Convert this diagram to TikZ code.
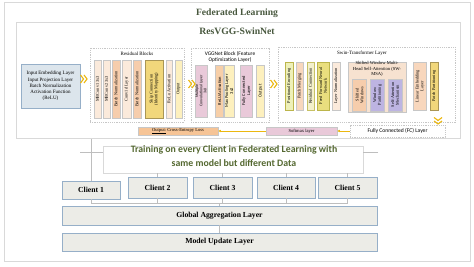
\documentclass[tikz,border=0pt]{standalone}
\usepackage{fontspec}
\setmainfont{Liberation Serif}
\newfontfamily\calibfont{Carlito}
\usepackage{xcolor}
\usetikzlibrary{arrows.meta,positioning,calc}
\definecolor{titlegreen}{RGB}{72,88,62}
\definecolor{olivetext}{RGB}{84,104,48}
\definecolor{framegray}{RGB}{217,217,217}
\definecolor{linegray}{RGB}{190,190,190}
\definecolor{inputblue}{RGB}{220,229,236}
\definecolor{steelline}{RGB}{150,175,200}
\definecolor{clientgray}{RGB}{236,236,231}
\definecolor{creamfill}{RGB}{251,234,219}
\definecolor{peachfill}{RGB}{246,205,172}
\definecolor{goldfill}{RGB}{241,215,123}
\definecolor{lightyel}{RGB}{253,240,190}
\definecolor{pinkfill}{RGB}{233,201,217}
\definecolor{orangefill}{RGB}{247,207,168}
\definecolor{greenyel}{RGB}{238,240,184}
\definecolor{paleyel}{RGB}{243,240,204}
\definecolor{ffgold}{RGB}{233,222,126}
\definecolor{msafill}{RGB}{247,226,208}
\definecolor{lavfill}{RGB}{189,180,226}
\definecolor{chevgold}{RGB}{236,184,16}
\definecolor{lossorange}{RGB}{246,196,150}

\begin{document}
\begin{tikzpicture}[x=1pt,y=-1pt,
  frame/.style={draw=framegray,line width=1pt,fill=white},
  dashbox/.style={draw=black!22,dash pattern=on 1.2pt off 1pt,line width=0.4pt},
  item/.style={draw=black!22,line width=0.3pt,rotate=90,inner sep=0.4pt,align=center,
    font=\fontsize{4.3}{4.8}\selectfont},
  sitem/.style={item,font=\calibfont\fontsize{4.5}{5}\selectfont},
  client/.style={draw=steelline,line width=0.6pt,fill=clientgray,inner sep=0pt,
    font=\fontsize{7.7}{9}\selectfont\bfseries},
  conn/.style={draw=linegray,line width=0.5pt},
  chev/.style={draw=chevgold,line width=1.1pt},
  goldarr/.style={draw=chevgold,line width=0.8pt,-{Latex[length=2.6pt,width=2.6pt]}}]
\useasboundingbox (0,0) rectangle (474,267);
\node[frame,minimum width=466,minimum height=258] (outer) at (237,132) {};
\node[font=\fontsize{9.6}{11}\selectfont\bfseries,text=titlegreen] (fl) at (237,13) {Federated Learning};
\node[frame,minimum width=444,minimum height=116] (inner) at (238,81) {};
\node[font=\fontsize{9.7}{11}\selectfont\bfseries,text=titlegreen] (net) at (237,31) {ResVGG-SwinNet};

% input layer
\node[draw=steelline,fill=inputblue,line width=0.5pt,minimum width=59,minimum height=44,inner sep=0pt,
  align=center,font=\fontsize{5}{6.2}\selectfont] (inp) at (50.5,86)
  {Input Embedding Layer\\Input Projection Layer\\Batch Normalization\\Activation Function\\(ReLU)};

% residual blocks
\node[dashbox,minimum width=94,minimum height=74] (res) at (137,85) {};
\node[font=\fontsize{5}{6}\selectfont] (restitle) at (137,54) {Residual Blocks};
\node[item,fill=creamfill,minimum width=58,minimum height=7] (r1) at (97.5,89) {MBConv1 3x3};
\node[item,fill=creamfill,minimum width=58,minimum height=7] (r2) at (106.5,89) {MBConv2 3x3};
\node[item,fill=peachfill,minimum width=58,minimum height=8] (r3) at (116,89) {Batch Normalization};
\node[item,fill=creamfill,minimum width=58,minimum height=9] (r4) at (126.5,89) {Conv1d Layer};
\node[item,fill=peachfill,minimum width=58,minimum height=8] (r5) at (137,89) {Batch Normalization};
\node[item,fill=goldfill,draw=goldfill!70!black,minimum width=58,minimum height=18] (r6) at (154,89) {Skip Connection\\(Identity Mapping)};
\node[item,fill=creamfill,minimum width=58,minimum height=6] (r7) at (169,89) {ReLu Activation};
\node[item,fill=lightyel,minimum width=58,minimum height=7] (r8) at (178.5,89) {Output};

% vggnet block
\node[dashbox,minimum width=78,minimum height=74] (vgg) at (230,85) {};
\node[align=center,font=\calibfont\fontsize{5.4}{6.4}\selectfont] (vggtitle) at (230,57) {VGGNet Block (Feature\\Optimization Layer)};
\node[sitem,fill=pinkfill,minimum width=52,minimum height=12,font=\calibfont\fontsize{3.9}{4.1}\selectfont] (v1) at (201,91) {Multiple\\Convolutional Layer\\3x3};
\node[sitem,fill=orangefill,minimum width=52,minimum height=8] (v2) at (219.5,91) {ReLU Activation};
\node[sitem,fill=lightyel,minimum width=52,minimum height=10] (v3) at (229,91) {Max Pooling Layer\\3x2};
\node[sitem,fill=pinkfill,minimum width=52,minimum height=12] (v4) at (246.5,91) {Fully Connected\\Layer};
\node[sitem,fill=lightyel,minimum width=52,minimum height=8] (v5) at (260.5,91) {Output};

% swin-transformer layer
\node[dashbox,minimum width=177,minimum height=75] (swin) at (366.5,84.5) {};
\node[font=\fontsize{5}{6}\selectfont] (swintitle) at (362,53) {Swin-Transformer Layer};
\node[item,fill=greenyel,draw=olive!60,minimum width=48,minimum height=8] (s1) at (289,86) {Positional Encoding};
\node[item,fill=peachfill!80,minimum width=48,minimum height=7] (s2) at (299.5,86) {Patch Merging};
\node[item,fill=paleyel,draw=olive!50,minimum width=48,minimum height=7] (s3) at (310.5,86) {Residual Connection};
\node[item,fill=ffgold,draw=olive!60,minimum width=48,minimum height=12] (s4) at (323,86) {Feed Forward Neural\\Network};
\node[item,fill=creamfill,minimum width=48,minimum height=8] (s5) at (336,86) {Layer Normalization};
\node[draw=black!22,line width=0.3pt,fill=msafill,minimum width=58,minimum height=50,inner sep=0pt] (msa) at (377,87) {};
\node[align=center,font=\fontsize{4.6}{5.4}\selectfont] (msatitle) at (377,69) {Shifted Window Multi-\\Head Self-Attention (SW-\\MSA)};
\node[item,fill=peachfill,minimum width=32,minimum height=14] (m1) at (359.5,95) {Shifted\\Windows};
\node[item,fill=lavfill,minimum width=32,minimum height=14] (m2) at (377.5,95) {Window\\Partitioning};
\node[item,fill=lavfill,minimum width=32,minimum height=14] (m3) at (395,95) {Self-Attention\\Mechanism};
\node[item,fill=peachfill!80,minimum width=48,minimum height=13] (s7) at (420,86) {Linear Embedding\\Layer};
\node[item,fill=goldfill,draw=goldfill!70!black,minimum width=48,minimum height=8] (s8) at (434,86) {Patch Partitioning};

% chevrons
\coordinate (chA) at (84,79);
\coordinate (chB) at (192,84);
\coordinate (chC) at (274,84);
\coordinate (chD) at (438,121);
\foreach \c in {chA,chB,chC}{
  \draw[chev] (\c) ++(-3.5,-4) -- ++(3,4) -- ++(-3,4);
  \draw[chev] (\c) ++(0,-4) -- ++(3,4) -- ++(-3,4);
}
\draw[chev] (chD) ++(-4,-3.5) -- ++(4,3) -- ++(4,-3);
\draw[chev] (chD) ++(-4,0) -- ++(4,3) -- ++(4,-3);

% output row
\node[draw=black!22,line width=0.3pt,fill=lossorange,minimum width=80,minimum height=8,inner sep=0pt,
  font=\fontsize{4.6}{5}\selectfont] (loss) at (178,131) {\underline{Output:} Cross-Entropy Loss};
\node[draw=black!22,line width=0.3pt,fill=pinkfill,minimum width=71,minimum height=8,inner sep=0pt,
  font=\fontsize{4.6}{5}\selectfont] (soft) at (301.5,131) {Softmax layer};
\node[dashbox,fill=white,minimum width=95,minimum height=12,inner sep=0pt,
  font=\calibfont\fontsize{5.6}{6}\selectfont] (fc) at (397.5,131) {Fully Connected (FC) Layer};
\draw[goldarr] (fc) -- (soft);
\draw[goldarr] (soft) -- (loss);

% federated training
\node[draw=framegray,line width=0.8pt,minimum width=260,minimum height=27,inner sep=0pt] (train) at (233,159.5) {};
\node[align=center,text=olivetext,font=\calibfont\fontsize{9.8}{13.5}\selectfont\bfseries] (traintext) at (234,156)
  {Training on every Client in Federated Learning with\\same model but different Data};
\coordinate (stubL) at (80,152);
\coordinate (stubR) at (378,152);
\draw[conn] (stubL) -- (stubL -| train.west);
\draw[conn] (stubR) -- (stubR -| train.east);

\node[client,minimum width=58,minimum height=18] (c1) at (91,190) {Client 1};
\node[client,minimum width=59,minimum height=21] (c2) at (157.5,187.5) {Client 2};
\node[client,minimum width=59,minimum height=21] (c3) at (222.5,187.5) {Client 3};
\node[client,minimum width=58,minimum height=21] (c4) at (286,187.5) {Client 4};
\node[client,minimum width=59,minimum height=21] (c5) at (347.5,187.5) {Client 5};
\node[client,minimum width=315,minimum height=19] (glob) at (219.5,215.5) {Global Aggregation Layer};
\node[client,minimum width=315,minimum height=18] (model) at (219.5,242) {Model Update Layer};

\draw[conn] (inner.south -| c1.north) -- (c1.north);
\foreach \c in {c2,c3,c4,c5}
  \draw[conn] (train.south -| \c.north) -- (\c.north);
\coordinate (bus) at (0,203);
\foreach \c in {c1,c2,c3,c4,c5}
  \draw[conn] (\c.south) -- (bus -| \c.south);
\draw[conn] (bus -| c1.south) -- (bus -| c5.south);
\draw[conn] (bus -| glob.north) -- (glob.north);
\draw[conn] (glob) -- (model);
\end{tikzpicture}
\end{document}
